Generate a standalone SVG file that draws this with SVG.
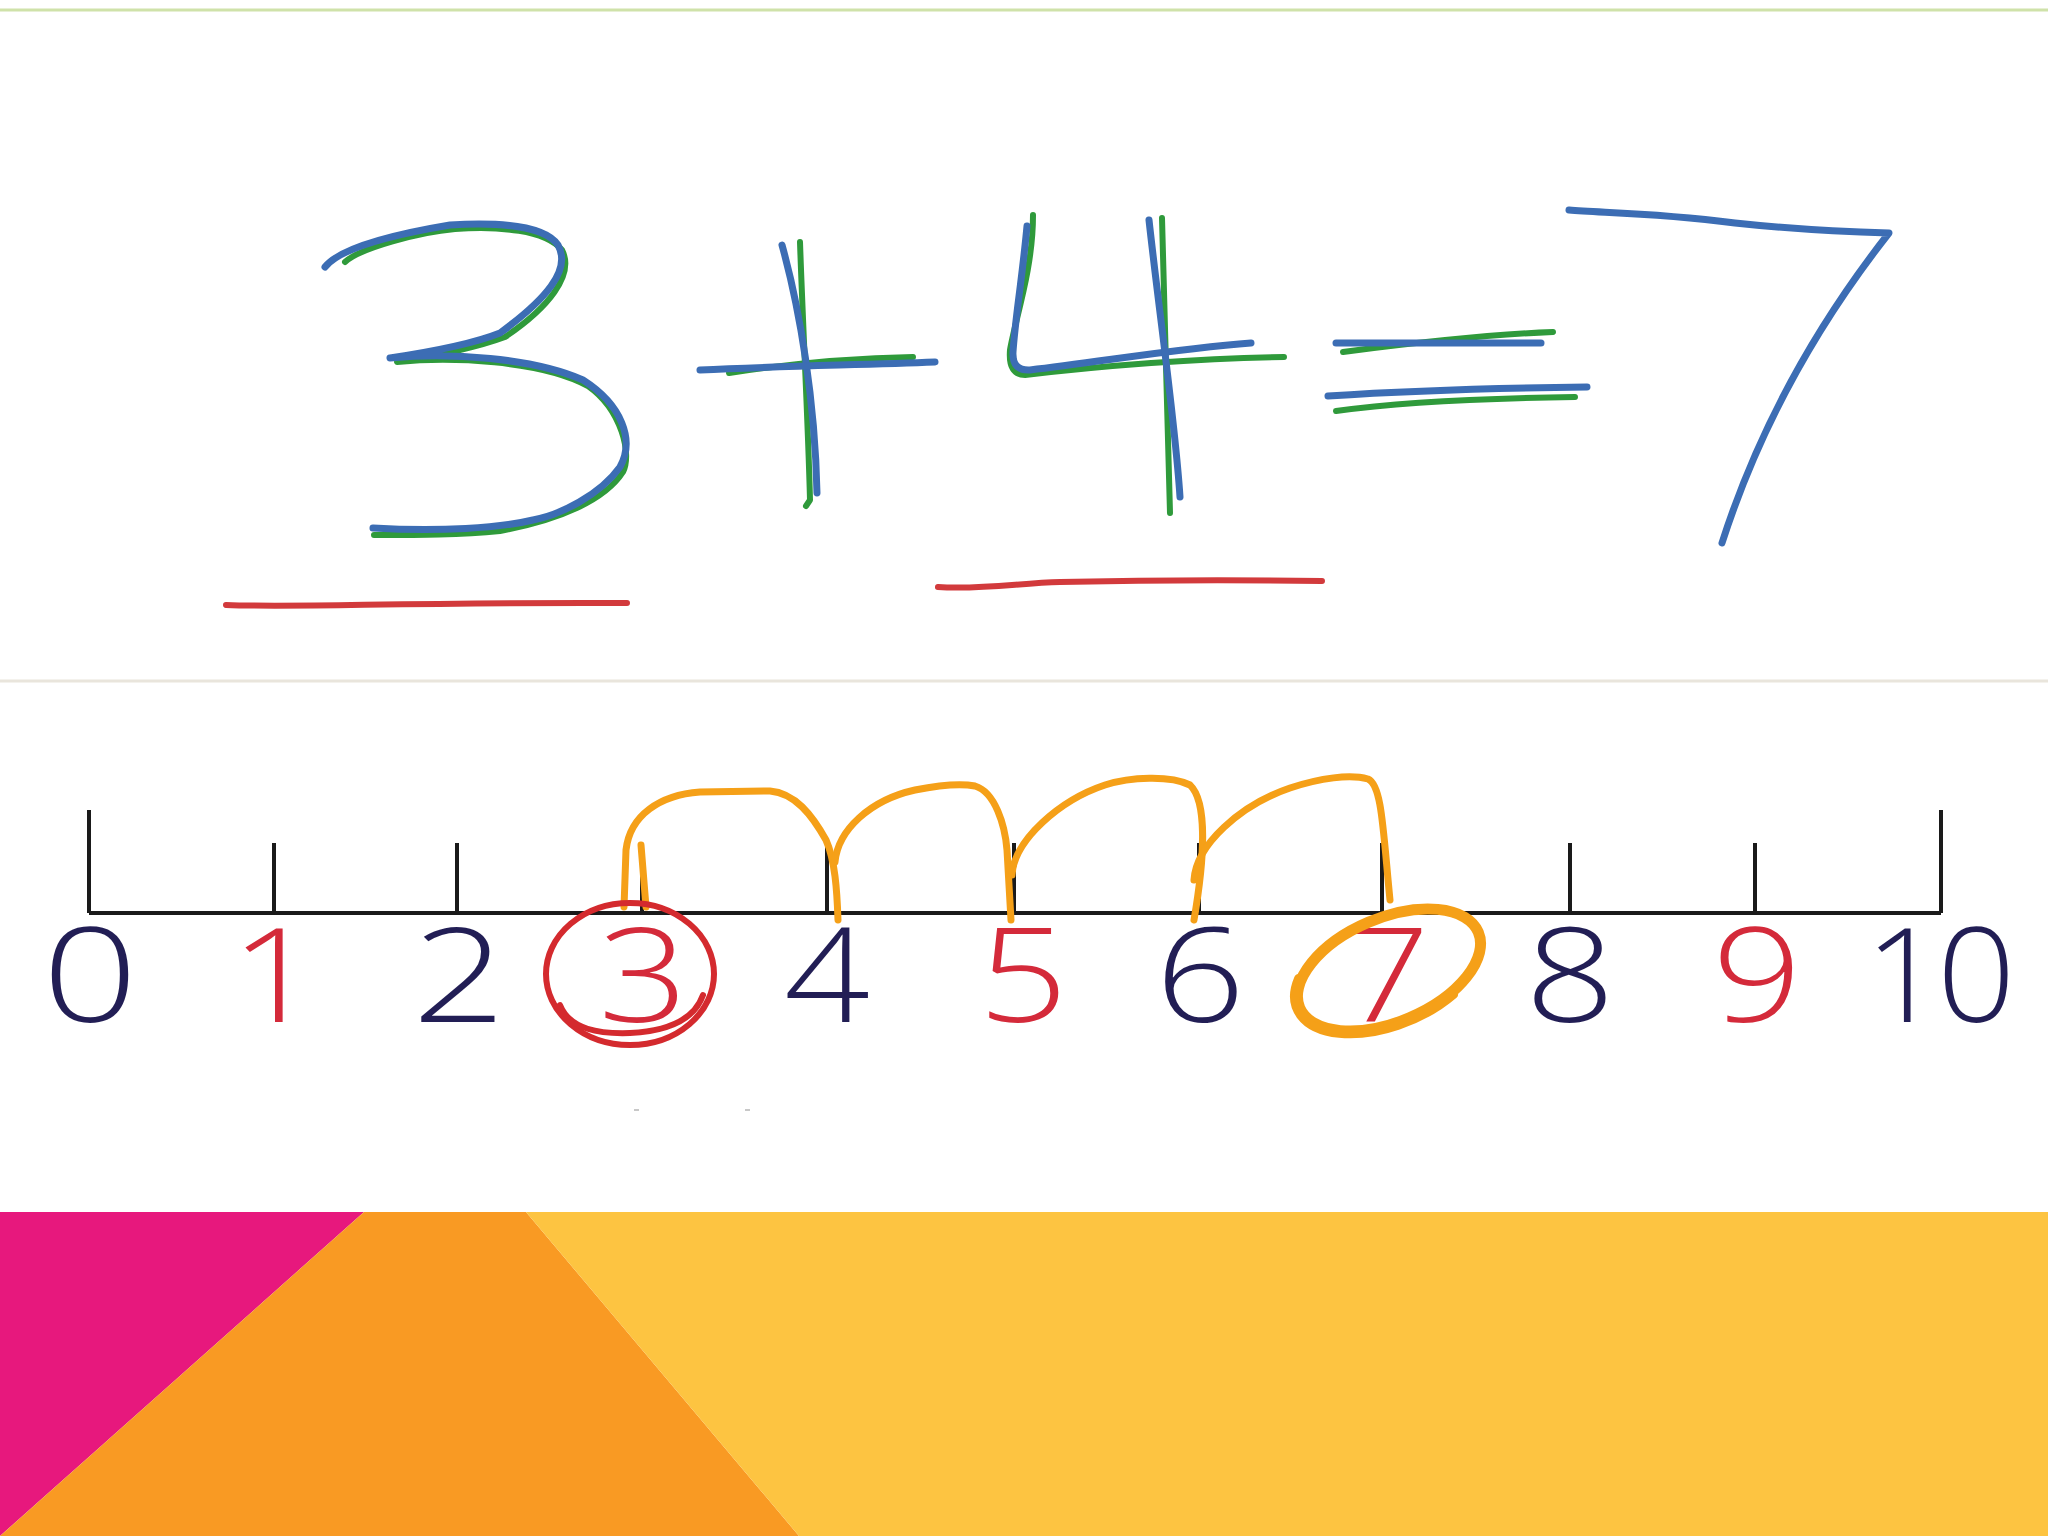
<svg xmlns="http://www.w3.org/2000/svg" width="2048" height="1536" viewBox="0 0 2048 1536">
<style>
.blue{fill:none;stroke:#3C6DB4;stroke-width:7;stroke-linecap:round;stroke-linejoin:round}
.green{fill:none;stroke:#2F9A3B;stroke-width:6;stroke-linecap:round;stroke-linejoin:round}
.redu{fill:none;stroke:#D23A3C;stroke-width:6;stroke-linecap:round}
.tick{stroke:#1A1A1A;stroke-width:4}
.hop{fill:none;stroke:#F5A018;stroke-width:7;stroke-linecap:round;stroke-linejoin:round}
.num{font-family:"Open Sans","DejaVu Sans",sans-serif;font-size:131px;font-weight:300;text-anchor:middle}
.navy{fill:#221E55}
.red{fill:#D42A3A}
.ring7{fill:none;stroke:#F5A018;stroke-linecap:round}
</style>
<rect width="2048" height="1536" fill="#FFFFFF"/>
<line x1="0" y1="10" x2="2048" y2="10" stroke="#CFE2A9" stroke-width="3"/>
<line x1="0" y1="681" x2="2048" y2="681" stroke="#E9E5DC" stroke-width="3"/>

<g id="equation">
  <g id="digit3">
    <path class="green" d="M 345 262 C 360 248, 420 232, 455 229 C 500 226, 545 230, 562 250 C 575 275, 548 308, 505 337 C 470 350, 430 356, 397 362 C 450 357, 540 360, 588 386 C 622 410, 632 455, 623 472 C 605 500, 560 520, 500 531 C 460 535, 420 535, 374 535"/>
    <path class="blue" d="M 325 267 C 340 248, 390 235, 450 225 C 500 222, 545 226, 558 245 C 572 270, 545 300, 500 333 C 470 345, 430 352, 390 358 C 450 352, 533 358, 583 380 C 622 405, 635 440, 620 467 C 600 495, 560 515, 533 520 C 500 528, 440 532, 373 528"/>
  </g>
  <g id="plus">
    <path class="green" d="M 800 242 C 803 330, 808 420, 810 500 L 806 506"/>
    <path class="green" d="M 729 373 C 800 362, 860 358, 913 357"/>
    <path class="blue" d="M 782 245 C 800 310, 815 400, 817 493"/>
    <path class="blue" d="M 700 370 C 780 366, 860 365, 935 362"/>
  </g>
  <g id="digit4">
    <path class="green" d="M 1033 215 C 1033 270, 1015 320, 1010 350 Q 1008 375 1025 375 C 1100 366, 1200 358, 1284 357"/>
    <path class="green" d="M 1162 218 C 1165 320, 1168 420, 1170 513"/>
    <path class="blue" d="M 1027 226 C 1022 280, 1015 320, 1013 352 Q 1012 371 1030 370 C 1100 362, 1180 348, 1251 343"/>
    <path class="blue" d="M 1149 220 C 1160 320, 1175 420, 1180 497"/>
  </g>
  <g id="equals">
    <path class="green" d="M 1343 352 C 1420 342, 1500 334, 1553 332"/>
    <path class="green" d="M 1336 411 C 1400 402, 1500 398, 1575 397"/>
    <path class="blue" d="M 1336 343 L 1541 343"/>
    <path class="blue" d="M 1328 396 C 1420 390, 1500 388, 1587 387"/>
  </g>
  <g id="digit7">
    <path class="blue" d="M 1569 210 C 1600 213, 1650 212, 1735 223 C 1800 230, 1850 232, 1889 233 Q 1775 378 1722 543"/>
  </g>
  <g id="blanks">
    <path class="redu" d="M 226 605 C 300 608, 400 602, 627 603"/>
    <path class="redu" d="M 938 587 C 980 590, 1020 583, 1060 582 C 1150 580, 1250 580, 1322 581"/>
  </g>
</g>

<g id="numberline">
  <line x1="89" y1="913" x2="1941" y2="913" class="tick"/>
  <line x1="89" y1="810" x2="89" y2="913" class="tick"/>
  <line x1="274" y1="843" x2="274" y2="913" class="tick"/>
  <line x1="457" y1="843" x2="457" y2="913" class="tick"/>
  <line x1="642" y1="843" x2="642" y2="913" class="tick"/>
  <line x1="827" y1="843" x2="827" y2="913" class="tick"/>
  <line x1="1014" y1="843" x2="1014" y2="913" class="tick"/>
  <line x1="1199" y1="843" x2="1199" y2="913" class="tick"/>
  <line x1="1382" y1="843" x2="1382" y2="913" class="tick"/>
  <line x1="1570" y1="843" x2="1570" y2="913" class="tick"/>
  <line x1="1755" y1="843" x2="1755" y2="913" class="tick"/>
  <line x1="1941" y1="810" x2="1941" y2="913" class="tick"/>
  <g id="labels">
    <text class="num navy" transform="translate(90 1022) scale(1.28 1)">0</text>
    <text class="num red" transform="translate(275 1022) scale(1.2 1)">1</text>
    <text class="num navy" transform="translate(459 1022) scale(1.25 1)">2</text>
    <text class="num red" transform="translate(643 1022) scale(1.2 1)">3</text>
    <text class="num navy" transform="translate(827 1022) scale(1.15 1)">4</text>
    <text class="num red" transform="translate(1023 1022) scale(1.2 1)">5</text>
    <text class="num navy" transform="translate(1200 1022) scale(1.2 1)">6</text>
    <text class="num red" transform="translate(1385 1022) scale(1.2 1)">7</text>
    <text class="num navy" transform="translate(1570 1022) scale(1.2 1)">8</text>
    <text class="num red" transform="translate(1757 1022) scale(1.2 1)">9</text>
    <text class="num navy" transform="translate(1937 1022) scale(1.05 1)" letter-spacing="-6">10</text>
  </g>
</g>

<g id="connectors">
  <path class="hop" d="M 646 907 L 641 845"/>
  <path class="hop" d="M 624 907 L 626 850 C 630 815, 660 795, 700 792 L 770 791 C 795 793, 812 815, 826 840 C 835 860, 837 890, 838 920"/>
  <path class="hop" d="M 835 862 C 838 830, 870 800, 915 790 C 940 785, 960 783, 975 786 C 995 792, 1005 825, 1007 850 L 1011 920"/>
  <path class="hop" d="M 1012 875 C 1014 840, 1060 800, 1105 785 C 1130 777, 1170 775, 1190 785 C 1206 800, 1206 850, 1194 920"/>
  <path class="hop" d="M 1194 880 C 1196 845, 1240 805, 1290 788 C 1320 778, 1350 774, 1368 779 C 1382 785, 1383 830, 1390 900"/>
</g>

<g id="circle3">
  <ellipse cx="630" cy="974" rx="84" ry="71" fill="none" stroke="#D42A2E" stroke-width="6"/>
  <path d="M 560 1005 C 570 1030, 600 1034, 630 1033 C 670 1031, 695 1018, 703 995" fill="none" stroke="#D42A2E" stroke-width="6" stroke-linecap="round"/>
</g>
<g id="circle7">
  <ellipse class="ring7" cx="1389" cy="970" rx="97" ry="52" transform="rotate(-23 1389 970)" stroke-width="11"/>
  <path class="ring7" d="M 1453.6 994.3 A 100 55 -23 0 1 1298.6 978.5" stroke-width="9"/>
</g>

<line x1="634" y1="1110" x2="639" y2="1110" stroke="#C8C8C8" stroke-width="2"/>
<line x1="745" y1="1110" x2="750" y2="1110" stroke="#C8C8C8" stroke-width="2"/>

<g id="band">
  <polygon points="0,1212 364,1212 0,1536" fill="#E7187D"/>
  <polygon points="364,1212 526,1212 799,1536 0,1536" fill="#F99A23"/>
  <polygon points="526,1212 2048,1212 2048,1536 799,1536" fill="#FDC441"/>
</g>
</svg>
